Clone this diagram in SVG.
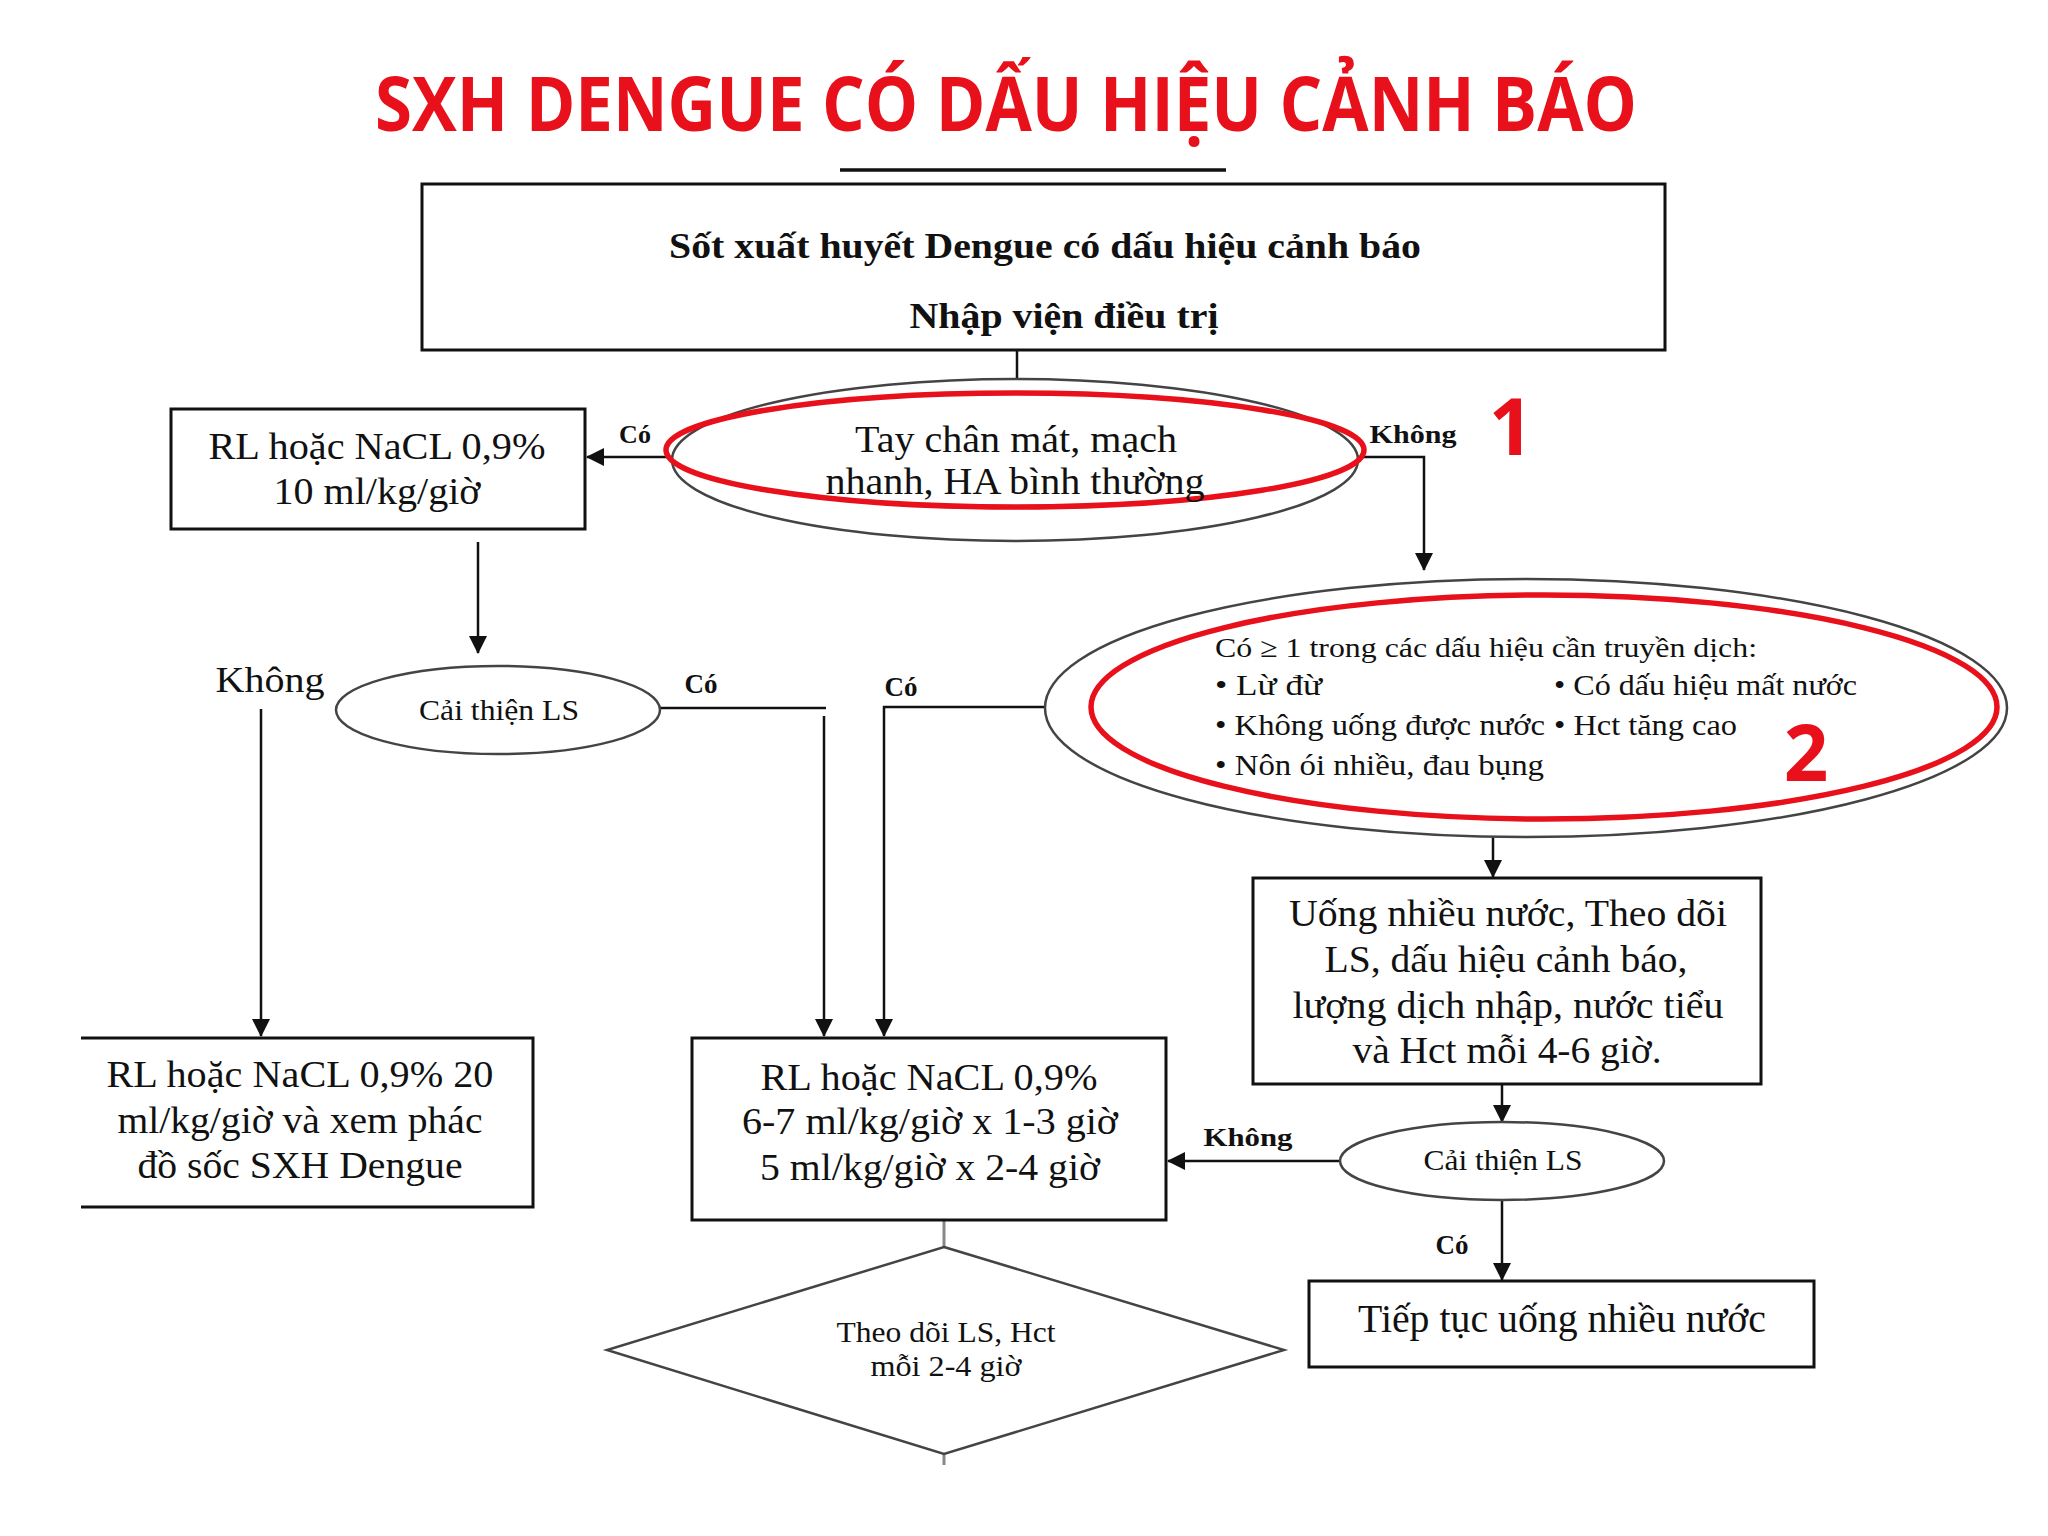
<svg xmlns="http://www.w3.org/2000/svg" width="2048" height="1536" viewBox="0 0 2048 1536">
<style>
.bg{fill:#ffffff}
.box{fill:#ffffff;stroke:#111;stroke-width:3}
.ell{fill:#ffffff;stroke:#444;stroke-width:2.5}
.red{fill:none;stroke:#e8101a;stroke-width:5.5}
.t{font-family:"Liberation Serif","Times New Roman",serif;fill:#111;text-anchor:middle}
.tl{font-family:"Liberation Serif","Times New Roman",serif;fill:#111}
.b{font-weight:bold}
.num{font-family:"Open Sans","Liberation Sans",sans-serif;font-weight:bold;fill:#e8101a;text-anchor:middle}
.con{fill:none;stroke:#111;stroke-width:2.5}
.grey{fill:none;stroke:#888;stroke-width:3}
</style>
<defs>
<marker id="arr" markerUnits="userSpaceOnUse" markerWidth="18" markerHeight="22" viewBox="0 0 18 22" refX="17" refY="11" orient="auto">
<path d="M0,2 L18,11 L0,20 Z" fill="#111"/>
</marker>
</defs>
<rect class="bg" x="0" y="0" width="2048" height="1536"/>

<g id="title">
<text class="num" x="1006" y="131" font-size="76" textLength="1262" lengthAdjust="spacingAndGlyphs">SXH DENGUE CÓ DẤU HIỆU CẢNH BÁO</text>
<line x1="840" y1="170" x2="1226" y2="170" stroke="#111" stroke-width="3.5"/>
</g>

<g id="connectors">
<line class="con" x1="1017" y1="350" x2="1017" y2="379"/>
<line class="con" x1="673" y1="457" x2="587" y2="457" marker-end="url(#arr)" stroke-width="4"/>
<path class="con" d="M1356,457 H1424 V570" marker-end="url(#arr)"/>
<line class="con" x1="478" y1="542" x2="478" y2="653" marker-end="url(#arr)"/>
<line class="con" x1="261" y1="709" x2="261" y2="1036" marker-end="url(#arr)"/>
<path class="con" d="M660,708 H826"/>
<line class="con" x1="824" y1="716" x2="824" y2="1036" marker-end="url(#arr)"/>
<path class="con" d="M1045,707 H884 V1036" marker-end="url(#arr)"/>
<line class="con" x1="1861" y1="707" x2="1955" y2="707"/>
<line class="con" x1="1493" y1="837" x2="1493" y2="877" marker-end="url(#arr)"/>
<line class="con" x1="1502" y1="1084" x2="1502" y2="1122" marker-end="url(#arr)"/>
<line class="con" x1="1341" y1="1161" x2="1168" y2="1161" marker-end="url(#arr)" stroke-width="3.5"/>
<line class="con" x1="1502" y1="1201" x2="1502" y2="1280" marker-end="url(#arr)" stroke-width="3"/>
<line class="grey" x1="944" y1="1220" x2="944" y2="1247"/>
<line class="grey" x1="944" y1="1454" x2="944" y2="1465"/>
</g>

<g id="labels">
<text class="t b" x="635" y="443" font-size="26">Có</text>
<text class="t b" x="1413" y="443" font-size="26" textLength="87" lengthAdjust="spacingAndGlyphs">Không</text>
<text class="t" x="270" y="692" font-size="36" textLength="109" lengthAdjust="spacingAndGlyphs">Không</text>
<text class="t b" x="701" y="693" font-size="27">Có</text>
<text class="t b" x="901" y="696" font-size="27">Có</text>
<text class="t b" x="1248" y="1146" font-size="26" textLength="89" lengthAdjust="spacingAndGlyphs">Không</text>
<text class="t b" x="1452" y="1254" font-size="27">Có</text>
</g>

<g id="n-start">
<rect class="box" x="422" y="184" width="1243" height="166"/>
<text class="t b" x="1045" y="258" font-size="36" textLength="752" lengthAdjust="spacingAndGlyphs">Sốt xuất huyết Dengue có dấu hiệu cảnh báo</text>
<text class="t b" x="1064" y="328" font-size="36" textLength="309" lengthAdjust="spacingAndGlyphs">Nhập viện điều trị</text>
</g>

<g id="n-cond1">
<ellipse class="ell" cx="1015" cy="460" rx="343" ry="81"/>
<ellipse class="red" cx="1015" cy="450" rx="349" ry="57"/>
<text class="t" x="1016" y="452" font-size="38" textLength="322" lengthAdjust="spacingAndGlyphs">Tay chân mát, mạch</text>
<text class="t" x="1015" y="494" font-size="38" textLength="379" lengthAdjust="spacingAndGlyphs">nhanh, HA bình thường</text>
<text class="num" x="1511" y="455" font-size="78">1</text>
</g>

<g id="n-rl10">
<rect class="box" x="171" y="409" width="414" height="120"/>
<text class="t" x="377" y="459" font-size="38" textLength="337" lengthAdjust="spacingAndGlyphs">RL hoặc NaCL 0,9%</text>
<text class="t" x="377" y="504" font-size="38" textLength="207" lengthAdjust="spacingAndGlyphs">10 ml/kg/giờ</text>
</g>

<g id="n-improve1">
<ellipse class="ell" cx="498" cy="710" rx="162" ry="44"/>
<text class="t" x="499" y="720" font-size="30" textLength="160" lengthAdjust="spacingAndGlyphs">Cải thiện LS</text>
</g>

<g id="n-cond2">
<ellipse class="ell" cx="1526" cy="708" rx="481" ry="129"/>
<ellipse class="red" cx="1544" cy="707" rx="453" ry="112"/>
<text class="tl" x="1215" y="657" font-size="28" textLength="542" lengthAdjust="spacingAndGlyphs">Có ≥ 1 trong các dấu hiệu cần truyền dịch:</text>
<text class="tl" x="1215" y="695" font-size="29" textLength="107" lengthAdjust="spacingAndGlyphs">• Lừ đừ</text>
<text class="tl" x="1554" y="695" font-size="29" textLength="303" lengthAdjust="spacingAndGlyphs">• Có dấu hiệu mất nước</text>
<text class="tl" x="1215" y="735" font-size="29" textLength="330" lengthAdjust="spacingAndGlyphs">• Không uống được nước</text>
<text class="tl" x="1554" y="735" font-size="29" textLength="183" lengthAdjust="spacingAndGlyphs">• Hct tăng cao</text>
<text class="tl" x="1215" y="775" font-size="29" textLength="329" lengthAdjust="spacingAndGlyphs">• Nôn ói nhiều, đau bụng</text>
<text class="num" x="1806" y="781" font-size="78">2</text>
</g>

<g id="n-rl20">
<path class="box" d="M81,1038 H533 V1207 H81" fill="#fff"/>
<text class="t" x="300" y="1087" font-size="38" textLength="387" lengthAdjust="spacingAndGlyphs">RL hoặc NaCL 0,9% 20</text>
<text class="t" x="300" y="1133" font-size="38" textLength="365" lengthAdjust="spacingAndGlyphs">ml/kg/giờ và xem phác</text>
<text class="t" x="300" y="1178" font-size="38" textLength="325" lengthAdjust="spacingAndGlyphs">đồ sốc SXH Dengue</text>
</g>

<g id="n-rl67">
<rect class="box" x="692" y="1038" width="474" height="182"/>
<text class="t" x="929" y="1090" font-size="38" textLength="337" lengthAdjust="spacingAndGlyphs">RL hoặc NaCL 0,9%</text>
<text class="t" x="930" y="1134" font-size="38" textLength="376" lengthAdjust="spacingAndGlyphs">6-7 ml/kg/giờ x 1-3 giờ</text>
<text class="t" x="930" y="1180" font-size="38" textLength="340" lengthAdjust="spacingAndGlyphs">5 ml/kg/giờ x 2-4 giờ</text>
</g>

<g id="n-monitor">
<polygon class="ell" points="944,1247 1284,1350 944,1454 607,1350"/>
<text class="t" x="946" y="1342" font-size="29" textLength="219" lengthAdjust="spacingAndGlyphs">Theo dõi LS, Hct</text>
<text class="t" x="946" y="1376" font-size="29" textLength="151" lengthAdjust="spacingAndGlyphs">mỗi 2-4 giờ</text>
</g>

<g id="n-drink">
<rect class="box" x="1253" y="878" width="508" height="206"/>
<text class="t" x="1508" y="926" font-size="38" textLength="438" lengthAdjust="spacingAndGlyphs">Uống nhiều nước, Theo dõi</text>
<text class="t" x="1506" y="972" font-size="38" textLength="363" lengthAdjust="spacingAndGlyphs">LS, dấu hiệu cảnh báo,</text>
<text class="t" x="1508" y="1018" font-size="38" textLength="431" lengthAdjust="spacingAndGlyphs">lượng dịch nhập, nước tiểu</text>
<text class="t" x="1507" y="1063" font-size="38" textLength="309" lengthAdjust="spacingAndGlyphs">và Hct mỗi 4-6 giờ.</text>
</g>

<g id="n-improve2">
<ellipse class="ell" cx="1502" cy="1161" rx="162" ry="39"/>
<text class="t" x="1503" y="1170" font-size="30" textLength="159" lengthAdjust="spacingAndGlyphs">Cải thiện LS</text>
</g>

<g id="n-continue">
<rect class="box" x="1309" y="1281" width="505" height="86"/>
<text class="t" x="1562" y="1332" font-size="40" textLength="408" lengthAdjust="spacingAndGlyphs">Tiếp tục uống nhiều nước</text>
</g>
</svg>
